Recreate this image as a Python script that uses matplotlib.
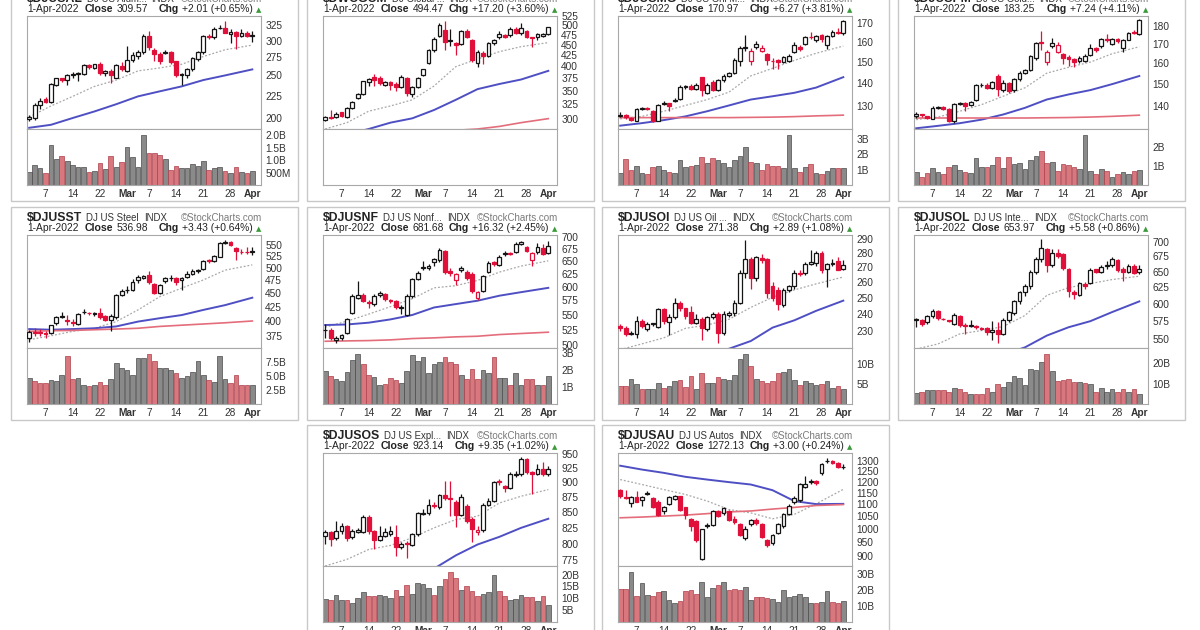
import matplotlib
matplotlib.use("Agg")
import matplotlib.pyplot as plt
from matplotlib import ticker
from matplotlib.patches import Rectangle

plt.rcParams["font.family"] = ["Liberation Sans", "DejaVu Sans"]

# trading days Feb 2 .. Apr 1 2022
days = list(range(42))
tick_pos = [3, 8, 13, 18, 22, 27, 32, 37, 41]
tick_lbl = ["7", "14", "22", "Mar", "7", "14", "21", "28", "Apr"]
ma_days = [0, 4, 8, 12, 16, 20, 24, 28, 32, 36, 41]

# ---- candles as (open, high, low, close), volume in billions ----
al_ohlc = [(199, 203, 197, 201), (200, 216, 198, 214), (214, 222, 210, 219), (221, 223, 216, 217),
           (218, 240, 216, 239), (238, 247, 236, 246), (246, 247, 242, 244), (244, 252, 238, 251),
           (250, 255, 247, 252), (252, 254, 243, 253), (252, 266, 250, 264), (264, 266, 259, 261),
           (260, 266, 258, 265), (265, 268, 250, 253), (253, 257, 249, 256), (256, 258, 240, 250),
           (247, 266, 246, 264), (263, 268, 256, 258), (256, 292, 254, 271), (271, 282, 268, 278),
           (277, 286, 272, 283), (282, 310, 280, 308), (308, 315, 285, 290), (285, 288, 270, 280),
           (279, 282, 265, 270), (281, 286, 279, 283), (282, 284, 266, 268), (269, 270, 248, 251),
           (250, 253, 238, 252), (250, 260, 247, 258), (258, 276, 256, 274), (273, 284, 270, 282),
           (282, 309, 280, 308), (308, 310, 303, 306), (305, 322, 303, 319), (320, 325, 318, 321),
           (321, 332, 312, 313), (311, 318, 297, 314), (314, 316, 287, 307), (308, 318, 306, 313),
           (313, 315, 305, 307.56), (308, 316, 298, 309.57)]
al_vol = [0.54, 0.81, 0.68, 0.50, 1.60, 1.03, 1.17, 0.98, 0.81, 0.72, 0.72, 0.54, 0.58, 0.88,
          0.64, 1.17, 0.74, 0.92, 1.54, 1.14, 0.74, 2.00, 1.27, 1.27, 1.21, 1.03, 0.61, 0.78,
          0.70, 0.68, 0.85, 0.77, 0.98, 0.61, 0.70, 0.72, 0.58, 0.48, 0.74, 0.54, 0.48, 0.58]
al_ma20 = [201, 213, 224, 236, 244, 256, 260, 265, 276, 286, 293]
al_ma50 = [190, 193, 200, 207, 215, 224, 230, 236, 244, 250, 258]

cm_ohlc = [(299, 305, 297, 303), (304, 315, 300, 302), (304, 311, 302, 309), (311, 312, 303, 305),
           (303, 320, 301, 318), (318, 330, 316, 329), (337, 346, 334, 344), (343, 370, 341, 368),
           (367, 376, 360, 374), (377, 384, 360, 371), (376, 380, 361, 364), (362, 369, 360, 366),
           (366, 368, 352, 361), (363, 366, 350, 358), (358, 382, 355, 378), (376, 378, 340, 345),
           (343, 360, 339, 358), (358, 377, 356, 375), (382, 395, 380, 393), (408, 440, 405, 437),
           (436, 468, 432, 465), (472, 506, 468, 501), (488, 512, 438, 457), (460, 490, 447, 462),
           (454, 456, 426, 448), (452, 488, 450, 486), (486, 490, 466, 468), (462, 465, 410, 414),
           (408, 438, 398, 433), (431, 434, 405, 424), (424, 456, 420, 453), (454, 465, 450, 462),
           (468, 486, 465, 477), (475, 478, 466, 469), (474, 495, 470, 491), (489, 495, 476, 479),
           (479, 505, 475, 493), (485, 487, 466, 469), (468, 469, 445, 466), (468, 480, 462, 477),
           (471, 480, 468, 477.27), (476, 496, 474, 494.47)]
cm_ma20 = [284, 294, 313, 322, 333, 359, 399, 416, 433, 445, 455]
cm_ma50 = [270, 276, 284, 294, 301, 315, 333, 353, 363, 372, 390]
cm_ma200 = [276, 277, 278, 279, 280, 281, 282, 284, 288, 294, 300.5]

mg_ohlc = [(126, 127.5, 125.5, 126.5), (126.3, 126.6, 124.8, 125.5), (125.3, 125.5, 124.0, 124.4),
           (124, 129.3, 123.8, 129), (129, 129.7, 128.6, 129.3), (129.2, 129.5, 128.5, 129.0),
           (128, 128.5, 123.7, 124), (124, 131, 123.8, 130.3), (130.8, 132, 130.5, 131.4),
           (131.2, 131.5, 128, 130), (132, 133.5, 131.6, 132.8), (133, 139, 132.5, 138.2),
           (138.3, 139, 137.5, 138.7), (138.8, 139.8, 136.8, 137.4), (137.4, 140, 136.8, 139.3),
           (142.8, 143, 134.5, 136.8), (135.8, 140, 135.3, 139.3), (140.4, 141.5, 136.4, 136.9),
           (137, 142, 136.3, 141.5), (141.5, 144, 140.5, 143.3), (143.3, 145.2, 142.8, 144.6),
           (144.6, 152, 144, 151), (150.2, 157.5, 148, 156.9), (156.8, 163.5, 155, 157),
           (150.2, 156.5, 148.6, 155.2), (157, 160.5, 156.2, 158.5), (155.2, 158, 154.5, 156.9),
           (153.5, 154, 148.5, 151), (150.5, 152, 146.6, 150.3), (150.8, 151.3, 146.6, 149.9),
           (150, 152.6, 149.4, 152.1), (150.5, 153.8, 150, 152.6), (154.8, 160, 154, 158.2),
           (157.4, 158, 155, 156.2), (158.8, 163, 158.3, 162.3), (162.6, 164.8, 161.5, 162.2),
           (160.8, 163.5, 159.8, 162.8), (163.2, 164, 160, 161.3), (158.4, 163.5, 156, 163),
           (163, 166, 162.5, 165.1), (164.9, 167, 164, 164.70), (164.3, 171.5, 163.5, 170.97)]
mg_vol = [0.79, 1.69, 0.97, 1.24, 0.79, 0.70, 1.19, 1.24, 0.97, 0.83, 0.79, 1.60, 1.19, 1.24,
          1.30, 1.82, 1.42, 1.75, 1.64, 1.46, 1.19, 1.64, 1.91, 2.49, 1.53, 1.42, 1.01, 1.37,
          1.24, 1.24, 1.08, 3.26, 1.08, 0.85, 1.15, 1.35, 0.79, 0.70, 0.92, 1.08, 1.08, 1.08]
mg_ma20 = [124.8, 125.8, 127.9, 130.3, 132.8, 136.0, 143.3, 146.8, 150.6, 154.1, 157.7]
mg_ma50 = [122.1, 123.1, 124.3, 125.8, 127.9, 130.3, 132.8, 134.2, 135.7, 138.0, 142.7]
mg_ma200 = [125.3, 125.3, 125.3, 125.3, 125.3, 125.3, 125.4, 125.5, 125.7, 126.0, 126.3]

pm_ohlc = [(135.5, 137, 134.5, 136.3), (136.2, 136.5, 135, 135.7), (135.3, 135.5, 134, 134.4),
           (134.3, 139.6, 134, 139), (138.8, 140, 138.5, 139.5), (139.4, 139.8, 138, 138.6),
           (138.4, 138.8, 132.8, 133.3), (133.3, 141.3, 132.5, 140.8), (140.8, 141.8, 140.3, 141.3),
           (141, 141.5, 137.5, 139.8), (140.3, 142, 139.8, 141.5), (142.7, 150, 142, 149.2),
           (149.2, 150.5, 148.5, 149.6), (149.5, 150.3, 147.5, 148.1), (148, 151.5, 147.5, 150.6),
           (153.5, 154.5, 144.5, 147.3), (147, 152, 146.3, 150.5), (150.3, 151, 145.8, 146.6),
           (147, 152.6, 146.3, 152.1), (152.2, 156, 151.5, 155), (155, 157.3, 154.5, 156.6),
           (156.6, 164.5, 156, 163.7), (162.8, 171.3, 161.5, 170.6), (171, 177, 167, 170.4),
           (160.6, 167, 159, 165.8), (168.9, 173.5, 168, 170.8), (166, 171, 165.5, 169.5),
           (164.6, 165.5, 159.5, 162.9), (163, 164.3, 158.5, 162.2), (162, 162.5, 158, 160.7),
           (161, 163.5, 160, 162.8), (161.2, 165, 160.8, 163.5), (164.3, 170, 163.5, 167.8),
           (168, 168.7, 166, 167.1), (168.8, 173.3, 168, 172.7), (172.8, 175.5, 171, 172.4),
           (170, 173.3, 169.5, 172.7), (172.8, 173.3, 170.5, 171.8), (168, 172.8, 166, 172.3),
           (172.5, 176.6, 172, 176.3), (176.4, 177.8, 175.5, 176.01), (175.5, 183.8, 174.8, 183.25)]
pm_vol = [0.68, 0.44, 0.61, 0.91, 0.68, 0.56, 0.95, 1.04, 0.77, 0.68, 0.61, 1.40, 0.96, 0.95,
          1.04, 1.44, 0.91, 1.44, 1.09, 1.14, 0.86, 1.32, 1.49, 1.75, 1.14, 1.18, 0.74, 1.09,
          1.05, 0.96, 0.86, 2.61, 0.74, 0.56, 0.86, 0.74, 0.44, 0.56, 0.68, 0.56, 0.74, 0.79]
pm_ma20 = [133.9, 135.0, 137.5, 140.4, 144.2, 148.1, 155.1, 158.0, 160.6, 164.9, 168.6]
pm_ma50 = [130.3, 131.3, 132.4, 133.9, 136.1, 139.0, 142.7, 145.0, 147.0, 149.8, 153.7]
pm_ma200 = [134.6, 134.6, 134.6, 134.6, 134.6, 134.6, 134.7, 134.8, 135.0, 135.3, 135.8]

st_ohlc = [(372, 385, 367, 382), (382.5, 388, 375, 381), (381.5, 386, 376, 380), (380.5, 383, 372, 379.5),
           (381, 394, 379, 393), (396, 408, 394, 406), (406, 415, 405, 408), (402, 410, 394, 400),
           (398.5, 404, 392, 397), (395, 414, 393, 412.5), (415, 420, 412, 416), (414, 416, 410, 413),
           (412, 416, 409, 413.5), (413, 422, 404, 406), (408, 410, 400, 402), (401, 412, 384, 409),
           (406, 448, 404, 446), (446, 458, 444, 453), (455, 464, 450, 456), (456, 476, 454, 471),
           (474, 484, 470, 481), (478, 485, 476, 482.5), (485, 494, 468, 471), (467, 470, 448, 450.5),
           (450, 468, 448, 465.7), (472, 481, 469, 478), (478, 485, 473, 479), (478, 481, 466, 470.5),
           (474, 481, 456, 478), (481, 493, 479, 487.5), (488, 497, 485, 494), (493, 498, 490, 494.5),
           (498, 517, 495, 515), (516, 518, 511, 514.5), (515, 527, 513, 525), (524, 557, 522, 555),
           (555, 561, 553, 557.5), (558, 560, 548, 550), (542, 546, 517, 535.6), (535, 540, 530, 534),
           (534.2, 545, 530, 533.55), (535, 546, 528, 536.98)]
st_vol = [4.7, 4.1, 3.8, 3.8, 4.3, 4.1, 5.3, 8.6, 4.5, 4.6, 3.5, 3.2, 3.4, 3.9, 3.4, 4.5, 7.3, 6.5,
          6.1, 5.3, 8.3, 8.3, 9.0, 7.7, 6.5, 6.5, 6.1, 5.5, 4.7, 5.1, 5.7, 7.7, 5.3, 4.3, 3.9, 8.7,
          4.5, 3.8, 5.3, 3.4, 3.5, 3.5]
st_ma20 = [369.8, 376, 383, 388, 399, 419, 443, 459, 475, 495, 506]
st_ma50 = [386.7, 385.6, 386.7, 388, 391, 399, 404.7, 410, 419, 427.5, 441]
st_ma200 = [383, 384, 384.5, 385.6, 386.7, 388, 391, 393, 395, 397, 400]

nf_ohlc = [(524, 534, 512, 525), (525, 527, 509, 511), (509, 514, 504, 512), (512, 518, 508, 516),
           (520, 545, 518, 542), (553, 586, 551, 583), (580, 610, 577, 584), (584, 588, 572, 574),
           (573, 576, 562, 571), (568, 586, 565, 583), (585, 592, 582, 588), (586, 589, 574, 577),
           (576, 578, 571, 574), (574, 576, 560, 563), (562, 567, 552, 564), (549, 586, 547, 583),
           (583, 617, 580, 615), (615, 630, 612, 627), (636, 650, 632, 638), (636, 645, 632, 640),
           (649, 657, 640, 654), (652, 678, 648, 672), (670, 672, 625, 629), (630, 636, 620, 626),
           (612, 627, 603, 625), (632, 640, 629, 636), (629, 632, 612, 616), (625, 628, 588, 592),
           (579, 592, 575, 590), (592, 623, 590, 621), (629, 650, 626, 647), (649, 651, 640, 644),
           (643, 662, 640, 659), (664, 670, 660, 666), (667, 669, 662, 664), (669, 689, 667, 686),
           (686, 692, 684, 689), (680, 682, 668, 670), (653, 668, 640, 666), (669, 688, 665, 679),
           (678, 686, 662, 665.36), (667, 692, 664, 681.68)]
nf_vol = [1.93, 1.67, 1.48, 1.37, 1.87, 2.6, 2.95, 2.35, 1.7, 1.6, 1.15, 1.2, 1.55, 1.4, 1.25, 1.95,
          2.9, 2.55, 2.8, 1.85, 2.35, 2.45, 2.75, 2.45, 2.35, 1.7, 1.45, 2.05, 1.5, 2.0, 1.8, 2.75,
          1.55, 1.55, 1.15, 1.8, 1.1, 1.45, 1.5, 1.1, 1.1, 1.65]
nf_ma20 = [529, 539, 551, 564, 578, 598, 602, 612, 628, 640, 650.5]
nf_ma50 = [532.6, 533.5, 536.5, 542, 549.5, 562.5, 568.5, 574.5, 583.5, 590, 598]
nf_ma200 = [506.3, 506.9, 507.4, 508.5, 510.6, 511.7, 513.3, 514.3, 517, 518.7, 520.8]

oi_ohlc = [(233, 234, 230, 231.5), (232, 233, 227, 228.5), (228.5, 230, 227.5, 228.8), (228.4, 239, 226, 236),
           (236, 237, 231.5, 233), (231, 235.5, 230, 234.4), (234, 235, 233, 234.6), (232.4, 244, 232, 243),
           (243, 244, 234, 236), (235.5, 240, 228, 238.3), (238.3, 250, 237, 247), (247, 248, 242, 243.5),
           (243.5, 244, 237, 239), (241, 245, 234, 235), (235, 240, 234, 237), (237, 238, 225, 231.6),
           (231, 239, 230, 238), (238, 241, 237, 240), (240, 241, 223, 229), (229, 242, 228, 240),
           (239.5, 242, 238, 240.5), (240.6, 249, 239, 247), (247, 268, 246, 266), (266, 289.5, 263, 276),
           (276, 277, 256, 263), (262.8, 278, 261, 276.8), (276.5, 279, 273, 275), (275.5, 276.5, 250, 253),
           (257.5, 260, 248, 250), (255, 257, 242.5, 246), (245.3, 256.5, 244.5, 255.3),
           (255.3, 258.5, 254, 257.5), (257.5, 268, 256, 266), (266.5, 268, 264, 265.8),
           (266, 274, 265, 272), (272.5, 282, 271.5, 273.5), (272.7, 281, 271, 280), (280, 281, 266, 268),
           (269, 273, 257, 272.2), (272.2, 276, 271, 273.3), (274.5, 277, 268, 268.49),
           (269, 275, 268, 271.38)]
oi_vol = [4.65, 4.65, 6.4, 5.1, 3.8, 3.7, 3.7, 5.4, 4.0, 4.65, 5.9, 6.1, 4.4, 7.0, 3.9, 7.8, 5.4,
          5.4, 6.8, 6.3, 6.1, 7.2, 11.3, 12.6, 9.6, 6.3, 5.9, 5.4, 5.7, 7.7, 8.0, 8.7, 6.1, 4.8,
          5.7, 5.4, 4.8, 5.1, 5.7, 4.0, 4.6, 3.7]
oi_ma20 = [219.5, 222.7, 226.1, 231.6, 233.5, 236.9, 244.1, 250.4, 255.1, 259, 263.5]
oi_ma50 = [208, 210, 212, 214, 216, 220.0, 224.3, 232, 236.3, 242, 248.3]

ol_ohlc = [(577, 580, 567, 578.5), (576, 578, 568, 571), (573, 584, 571, 582), (582, 593, 580, 589),
           (589, 591, 577, 579), (578.5, 580, 576, 577.5), (576, 577, 573, 575), (570.7, 586, 569, 583.5),
           (582, 584, 566, 570), (570, 572, 557, 568.5), (568, 576, 566, 569), (567.5, 569, 564, 566.4),
           (565, 567, 562, 564), (564.5, 566, 556, 559.5), (559, 575, 548, 562.7), (562, 574, 545, 557),
           (557, 580, 555, 576), (576, 590, 573, 587.5), (587, 606, 584, 604), (604, 620, 600, 617.6),
           (617.6, 630, 612, 627), (627, 653, 622, 650), (650, 674, 646, 670), (670, 705, 666, 690),
           (688, 690, 650, 661), (661, 688, 658, 681), (681, 688, 672, 676), (679, 681, 652, 656),
           (654, 656, 610, 620), (618, 621, 608, 614.5), (614, 634, 612, 632), (630, 633, 623, 627),
           (632, 656, 630, 653), (653.5, 655, 647, 650), (650, 661, 647, 658), (659, 667, 655, 661),
           (660.7, 674, 658, 670), (669, 671, 649, 653), (655, 657, 635, 650), (650, 662, 648, 658.5),
           (658.5, 662, 646, 648.39), (649, 660, 646, 653.97)]
ol_vol = [5.5, 6.0, 6.6, 6.6, 6.6, 6.6, 5.8, 7.6, 7.1, 6.0, 5.0, 5.0, 5.0, 7.6, 5.8, 9.8, 8.2, 10.6,
          13.9, 12.7, 9.5, 17.1, 16.8, 20.5, 24.4, 16.0, 11.1, 11.9, 12.3, 10.8, 10.8, 10.3, 10.0,
          5.8, 7.6, 5.8, 7.1, 5.8, 7.1, 5.8, 7.1, 5.0]
ol_ma20 = [536.4, 543.2, 556.9, 561.6, 567.2, 583, 612.8, 624.7, 631, 637.3, 642.6]
ol_ma50 = [515, 518, 521, 525, 529, 538.7, 554.6, 566.2, 574.8, 587.9, 603.7]

os_ohlc = [(812, 822, 800, 818), (818, 820, 797, 807), (809, 835, 806, 820), (820, 833, 815, 827),
           (827, 830, 805, 809), (810.5, 823, 807, 820), (819, 825, 816, 821), (818.5, 845, 816, 842.5),
           (842.5, 845, 815, 819.4), (819.4, 822, 792, 806.6), (806.6, 827, 804, 812.6),
           (812.6, 825, 810, 819), (815, 827, 812, 819.5), (811, 830, 781, 795), (795, 803, 792, 800),
           (801, 805, 778, 799), (798.8, 817, 796, 814.6), (814.6, 850, 812, 847.8),
           (847, 855, 845, 848.5), (848, 872, 845, 862), (862.5, 866, 857, 860.5),
           (858, 880, 855, 878.6), (878.6, 902, 870, 873), (873.5, 903, 843, 871.5),
           (867, 870, 826, 845), (845, 880, 843, 875), (860.5, 863, 832, 836), (838.9, 842, 803, 822.5),
           (818, 827, 813, 821.5), (822, 865, 818, 862), (862, 873, 860, 869), (869, 903, 866, 901),
           (902.5, 905, 895, 900), (893, 896, 884, 891), (891, 918, 888, 914), (913, 920, 910, 915),
           (914, 944, 911, 941), (941, 943, 915, 918), (918, 920, 880, 914), (914, 932, 912, 923.6),
           (923.6, 936, 911, 913.79), (914, 928, 911, 923.14)]
os_vol = [9.7, 9.4, 11.4, 9.3, 9.4, 7.9, 10.0, 12.6, 11.1, 11.1, 11.4, 11.1, 10.0, 13.7, 10.9, 15.7,
          11.9, 16.6, 16.1, 14.3, 11.4, 15.4, 18.0, 21.1, 18.6, 13.7, 15.1, 12.9, 11.1, 11.9, 12.6,
          19.7, 13.0, 10.9, 9.4, 9.7, 11.4, 10.4, 10.4, 9.0, 10.9, 7.3]
os_ma20 = [766.7, 776.5, 791.4, 797.5, 809.3, 824.8, 838, 843.4, 865, 876.3, 887.5]
os_ma50 = [745, 748, 751, 754, 757, 762.8, 782.4, 798.9, 810.7, 824.8, 839.3]

au_ohlc = [(1165, 1168, 1128, 1135), (1132, 1165, 1122, 1128), (1107, 1138, 1090, 1133),
           (1133, 1160, 1108, 1112), (1120, 1137, 1093, 1133), (1146, 1158, 1140, 1149),
           (1126, 1130, 1085, 1090), (1112, 1118, 1050, 1056), (1073, 1095, 1060, 1089),
           (1103, 1137, 1098, 1133), (1124, 1140, 1118, 1136), (1134, 1138, 1073, 1078),
           (1087, 1090, 1040, 1057), (1040, 1045, 990, 1012), (1033, 1036, 950, 956),
           (891, 1001, 887, 998), (1013, 1025, 1005, 1017), (1016, 1078, 1010, 1073),
           (1073, 1078, 1047, 1051), (1062, 1087, 1056, 1084), (1073, 1076, 1030, 1036),
           (1040, 1050, 1020, 1026), (1020, 1024, 972, 978), (964, 1010, 958, 1001),
           (1020, 1040, 1012, 1034), (1036, 1042, 1015, 1022), (1018, 1022, 965, 970),
           (956, 960, 932, 941), (945, 982, 940, 978), (985, 1024, 980, 1020), (1010, 1062, 1005, 1058),
           (1058, 1100, 1054, 1095), (1110, 1138, 1102, 1126), (1118, 1195, 1110, 1189),
           (1178, 1230, 1172, 1190), (1200, 1212, 1190, 1204), (1203, 1208, 1188, 1195),
           (1240, 1290, 1232, 1285), (1300, 1315, 1290, 1304), (1300, 1308, 1285, 1290),
           (1290, 1295, 1265, 1269.13), (1270, 1285, 1262, 1272.13)]
au_vol = [20.6, 20.6, 31, 16.3, 24, 17, 16.3, 18.5, 19.1, 13.8, 11.6, 13.3, 19.1, 19.8, 17.6, 24.5,
          15.5, 21.3, 23, 24.9, 19.8, 20.2, 19.8, 21.9, 13.8, 15.5, 15.5, 14.8, 14.2, 12.7, 19.8,
          15.5, 16.3, 17.6, 15.5, 11.6, 11.6, 12.7, 19.1, 12.7, 11.6, 13.3]
au_ma20 = [1211, 1188, 1165, 1143, 1114, 1078, 1064, 1040, 1058, 1102, 1166]
au_ma50 = [1278, 1259, 1243, 1224, 1211, 1199, 1188, 1162, 1114, 1101, 1102]
au_ma200 = [1044, 1047, 1051, 1055, 1061, 1068, 1072, 1080, 1087, 1095, 1099]

panels = [
    dict(sym="$DJUSAL", name="DJ US Alum...", ohlc=al_ohlc, vol=al_vol, ma20=al_ma20, ma50=al_ma50,
         ma200=None, ylim=(188.8, 341.3), yt=[200, 225, 250, 275, 300, 325],
         vt=[0.5, 1, 1.5, 2], vl=["500M", "1.0B", "1.5B", "2.0B"]),
    dict(sym="$DWCGCM", name="DJ Global ...", ohlc=cm_ohlc, vol=None, ma20=cm_ma20, ma50=cm_ma50,
         ma200=cm_ma200, ylim=(284, 526), yt=[300, 325, 350, 375, 400, 425, 450, 475, 500, 525],
         vt=[], vl=[]),
    dict(sym="$DJUSMG", name="DJ US Gnl M...", ohlc=mg_ohlc, vol=mg_vol, ma20=mg_ma20, ma50=mg_ma50,
         ma200=mg_ma200, ylim=(120.8, 173.7), yt=[130, 140, 150, 160, 170],
         vt=[1, 2, 3], vl=["1B", "2B", "3B"]),
    dict(sym="$DJUSPM", name="DJ US Gold...", ohlc=pm_ohlc, vol=pm_vol, ma20=pm_ma20, ma50=pm_ma50,
         ma200=pm_ma200, ylim=(130.0, 185.8), yt=[140, 150, 160, 170, 180],
         vt=[1, 2], vl=["1B", "2B"]),
    dict(sym="$DJUSST", name="DJ US Steel", ohlc=st_ohlc, vol=st_vol, ma20=st_ma20, ma50=st_ma50,
         ma200=st_ma200, ylim=(357.2, 573.5), yt=[375, 400, 425, 450, 475, 500, 525, 550],
         vt=[2.5, 5, 7.5], vl=["2.5B", "5.0B", "7.5B"]),
    dict(sym="$DJUSNF", name="DJ US Nonf...", ohlc=nf_ohlc, vol=nf_vol, ma20=nf_ma20, ma50=nf_ma50,
         ma200=nf_ma200, ylim=(495.8, 705), yt=[500, 525, 550, 575, 600, 625, 650, 675, 700],
         vt=[1, 2, 3], vl=["1B", "2B", "3B"]),
    dict(sym="$DJUSOI", name="DJ US Oil ...", ohlc=oi_ohlc, vol=oi_vol, ma20=oi_ma20, ma50=oi_ma50,
         ma200=None, ylim=(220.4, 292.9), yt=[230, 240, 250, 260, 270, 280, 290],
         vt=[5, 10], vl=["5B", "10B"]),
    dict(sym="$DJUSOL", name="DJ US Inte...", ohlc=ol_ohlc, vol=ol_vol, ma20=ol_ma20, ma50=ol_ma50,
         ma200=None, ylim=(537.8, 711.8), yt=[550, 575, 600, 625, 650, 675, 700],
         vt=[10, 20], vl=["10B", "20B"]),
    dict(sym="$DJUSOS", name="DJ US Expl...", ohlc=os_ohlc, vol=os_vol, ma20=os_ma20, ma50=os_ma50,
         ma200=None, ylim=(766.7, 951.9), yt=[775, 800, 825, 850, 875, 900, 925, 950],
         vt=[5, 10, 15, 20], vl=["5B", "10B", "15B", "20B"]),
    dict(sym="$DJUSAU", name="DJ US Autos", ohlc=au_ohlc, vol=au_vol, ma20=au_ma20, ma50=au_ma50,
         ma200=au_ma200, ylim=(865.8, 1342.6), yt=[900, 950, 1000, 1050, 1100, 1150, 1200, 1250, 1300],
         vt=[10, 20, 30], vl=["10B", "20B", "30B"]),
]

W, H = 1200, 630
UP, DOWN = "#141414", "#e0103a"
VUP, VUP_E = "#8a8a8a", "#4a4a4a"
VDN, VDN_E = "#d9777f", "#ad3f4b"
TXT = "#222222"

fig = plt.figure(figsize=(12, 6.3), dpi=100)
fig.patch.set_facecolor("white")
rend = fig.canvas.get_renderer()


def fx(px):
    return px / W


def fy(py):
    return 1 - py / H


def put(x, y, s, right=False, **kw):
    t = fig.text(fx(x), fy(y), s, ha="right" if right else "left", va="baseline",
                 color=kw.pop("color", TXT), **kw)
    return t.get_window_extent(rend)


def draw(p, x0, yt):
    pw, ph, vh = 234, 113, 56
    x1 = x0 + pw
    yv = yt + ph + vh
    # panel frame
    fig.add_artist(Rectangle((fx(x0 - 16), fy(yv + 16)), 287 / W, (yv + 16 - (yt - 28)) / H,
                             transform=fig.transFigure, fill=False, ec="#c8c8c8", lw=1))
    ax = fig.add_axes([fx(x0), fy(yt + ph), pw / W, ph / H])
    axv = fig.add_axes([fx(x0), fy(yv), pw / W, vh / H])

    o, h, l, c = zip(*p["ohlc"])
    prev = [o[0]] + list(c[:-1])
    down = [c[i] < prev[i] for i in days]

    ax.set_yscale("log")
    for i in days:
        col = DOWN if down[i] else UP
        ax.vlines(i, min(l[i], o[i], c[i]), max(h[i], o[i], c[i]), color=col, lw=0.9, zorder=3)
        ax.add_patch(Rectangle((i - 0.35, min(o[i], c[i])), 0.7, abs(c[i] - o[i]),
                               facecolor=col if c[i] < o[i] else "white", edgecolor=col,
                               lw=0.9, zorder=4))
    ax.plot(ma_days, p["ma20"], color="#a8a8a8", lw=0.9, ls=(0, (1.5, 1.5)), zorder=2)
    ax.plot(ma_days, p["ma50"], color="#4f4fc4", lw=1.4, zorder=2)
    if p["ma200"]:
        ax.plot(ma_days, p["ma200"], color="#e46d7b", lw=1.2, zorder=2)
    ax.set_ylim(*p["ylim"])
    ax.set_yticks(p["yt"])
    ax.set_yticklabels([str(v) for v in p["yt"]])
    ax.yaxis.set_minor_locator(ticker.NullLocator())
    ax.set_xticks([])

    if p["vol"]:
        axv.bar(days, p["vol"], width=0.86, color=[VDN if d else VUP for d in down],
                edgecolor=[VDN_E if d else VUP_E for d in down], lw=0.5)
        axv.set_ylim(0, max(p["vol"]) * 1.12)
    axv.set_yticks(p["vt"])
    axv.set_yticklabels(p["vl"])
    axv.set_xticks(tick_pos)
    axv.set_xticklabels(tick_lbl)
    for t, s in zip(axv.get_xticklabels(), tick_lbl):
        if not s.isdigit():
            t.set_fontweight("bold")

    for a in (ax, axv):
        a.set_xlim(-0.4, 42.6)
        a.yaxis.tick_right()
        a.tick_params(axis="both", length=0, pad=3, labelsize=7.3, colors="#333333")
        for s in a.spines.values():
            s.set_color("#a8a8a8")
            s.set_linewidth(0.8)

    # header line 1
    b = put(x0, yt - 14, p["sym"], fontsize=8.8, fontweight="bold")
    b = put(b.x1 + 4, yt - 14, p["name"], fontsize=6.9, color="#333333")
    put(b.x1 + 5, yt - 14, "INDX", fontsize=6.9, color="#333333")
    put(x1 + 1, yt - 14, "\u00a9StockCharts.com", right=True, fontsize=7.0, color="#7a7a7a")
    # header line 2
    chg = c[-1] - c[-2]
    put(x0, yt - 4, "1-Apr-2022", fontsize=7.4)
    b = put(x0 + 58, yt - 4, "Close", fontsize=7.6, fontweight="bold")
    put(b.x1 + 3, yt - 4, f"{c[-1]:.2f}", fontsize=7.4)
    b = put(x1, yt - 4, "\u25b2", right=True, fontsize=5, color="#3c9a3c", family=["DejaVu Sans"])
    b = put(b.x0 - 3, yt - 4, f"{chg:+.2f} ({chg / c[-2] * 100:+.2f}%)", right=True, fontsize=7.4)
    put(b.x0 - 3, yt - 4, "Chg", right=True, fontsize=7.6, fontweight="bold")


col_x = [27, 323, 618, 914]
row_y = [16, 235, 453]
slots = [(0, 0), (0, 1), (0, 2), (0, 3), (1, 0), (1, 1), (1, 2), (1, 3), (2, 1), (2, 2)]
for p, (r, cidx) in zip(panels, slots):
    draw(p, col_x[cidx], row_y[r])

fig.savefig("out.png", dpi=100, facecolor="white")
